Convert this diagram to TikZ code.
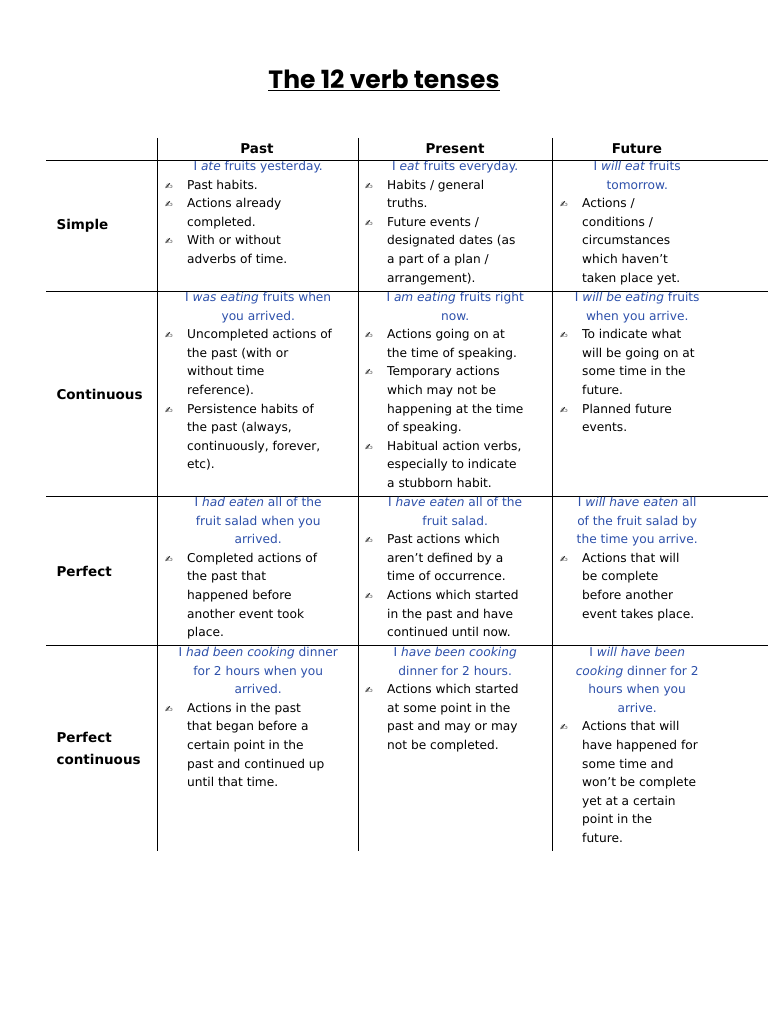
\documentclass[tikz,border=0pt]{standalone}
\usepackage{fontspec}
\setmainfont{DejaVu Sans}
\newfontfamily\titlefont{Poppins}
\definecolor{ex}{RGB}{45,80,170}
\newcommand{\bul}{✍}
\newcommand{\B}[1]{\makebox[22pt][l]{\small\bul}#1}
\newcommand{\C}[1]{\hspace*{22pt}#1}
\newcommand{\E}[2]{\makebox[#1][c]{\color{ex}#2}}
\begin{document}
\begin{tikzpicture}[x=1pt,y=-1pt,
  cell/.style={anchor=north west,inner sep=0pt,align=left,font=\fontsize{12.2}{18.6}\selectfont},
  head/.style={font=\fontsize{13.5}{16}\selectfont\bfseries},
  rowlab/.style={anchor=west,align=left,font=\fontsize{13.5}{22}\selectfont\bfseries},
  grid/.style={line width=0.8pt}]
\useasboundingbox (0,0) rectangle (768,1024);
\node[font=\titlefont\fontsize{25}{30}\selectfont\bfseries] (title) at (384,80) {\underline{The 12 verb tenses}};
\foreach \x in {157,358,552} \draw[grid] (\x,138) -- (\x,851);
\foreach \y in {160,291,496,645} \draw[grid] (46,\y) -- (768,\y);
\node[head] (hp) at (257,149) {Past};
\node[head] (hn) at (455,149) {Present};
\node[head] (hf) at (637,149) {Future};
\node[rowlab] (r1) at (53,226) {Simple};
\node[rowlab] (r2) at (53,394) {Continuous};
\node[rowlab] (r3) at (53,571) {Perfect};
\node[rowlab] (r4) at (53,748) {Perfect\\continuous};
% Simple
\node[cell] (s1) at (165,161) {\E{186pt}{I \textit{ate} fruits yesterday.}\\
\B{Past habits.}\\ \B{Actions already}\\ \C{completed.}\\ \B{With or without}\\ \C{adverbs of time.}};
\node[cell] (s2) at (365,161) {\E{180pt}{I \textit{eat} fruits everyday.}\\
\B{Habits / general}\\ \C{truths.}\\ \B{Future events /}\\ \C{designated dates (as}\\ \C{a part of a plan /}\\ \C{arrangement).}};
\node[cell] (s3) at (560,161) {\E{154pt}{I \textit{will eat} fruits}\\ \E{154pt}{tomorrow.}\\
\B{Actions /}\\ \C{conditions /}\\ \C{circumstances}\\ \C{which haven't}\\ \C{taken place yet.}};
% Continuous
\node[cell] (c1) at (165,292) {\E{186pt}{I \textit{was eating} fruits when}\\ \E{186pt}{you arrived.}\\
\B{Uncompleted actions of}\\ \C{the past (with or}\\ \C{without time}\\ \C{reference).}\\ \B{Persistence habits of}\\ \C{the past (always,}\\ \C{continuously, forever,}\\ \C{etc).}};
\node[cell] (c2) at (365,292) {\E{180pt}{I \textit{am eating} fruits right}\\ \E{180pt}{now.}\\
\B{Actions going on at}\\ \C{the time of speaking.}\\ \B{Temporary actions}\\ \C{which may not be}\\ \C{happening at the time}\\ \C{of speaking.}\\ \B{Habitual action verbs,}\\ \C{especially to indicate}\\ \C{a stubborn habit.}};
\node[cell] (c3) at (560,292) {\E{154pt}{I \textit{will be eating} fruits}\\ \E{154pt}{when you arrive.}\\
\B{To indicate what}\\ \C{will be going on at}\\ \C{some time in the}\\ \C{future.}\\ \B{Planned future}\\ \C{events.}};
% Perfect
\node[cell] (p1) at (165,497) {\E{186pt}{I \textit{had eaten} all of the}\\ \E{186pt}{fruit salad when you}\\ \E{186pt}{arrived.}\\
\B{Completed actions of}\\ \C{the past that}\\ \C{happened before}\\ \C{another event took}\\ \C{place.}};
\node[cell] (p2) at (365,497) {\E{180pt}{I \textit{have eaten} all of the}\\ \E{180pt}{fruit salad.}\\
\B{Past actions which}\\ \C{aren't defined by a}\\ \C{time of occurrence.}\\ \B{Actions which started}\\ \C{in the past and have}\\ \C{continued until now.}};
\node[cell] (p3) at (560,497) {\E{154pt}{I \textit{will have eaten} all}\\ \E{154pt}{of the fruit salad by}\\ \E{154pt}{the time you arrive.}\\
\B{Actions that will}\\ \C{be complete}\\ \C{before another}\\ \C{event takes place.}};
% Perfect continuous
\node[cell] (q1) at (165,647) {\E{186pt}{I \textit{had been cooking} dinner}\\ \E{186pt}{for 2 hours when you}\\ \E{186pt}{arrived.}\\
\B{Actions in the past}\\ \C{that began before a}\\ \C{certain point in the}\\ \C{past and continued up}\\ \C{until that time.}};
\node[cell] (q2) at (365,647) {\E{180pt}{I \textit{have been cooking}}\\ \E{180pt}{dinner for 2 hours.}\\
\B{Actions which started}\\ \C{at some point in the}\\ \C{past and may or may}\\ \C{not be completed.}};
\node[cell] (q3) at (560,647) {\E{154pt}{I \textit{will have been}}\\ \E{154pt}{\textit{cooking} dinner for 2}\\ \E{154pt}{hours when you}\\ \E{154pt}{arrive.}\\
\B{Actions that will}\\ \C{have happened for}\\ \C{some time and}\\ \C{won't be complete}\\ \C{yet at a certain}\\ \C{point in the}\\ \C{future.}};
\end{tikzpicture}
\end{document}
